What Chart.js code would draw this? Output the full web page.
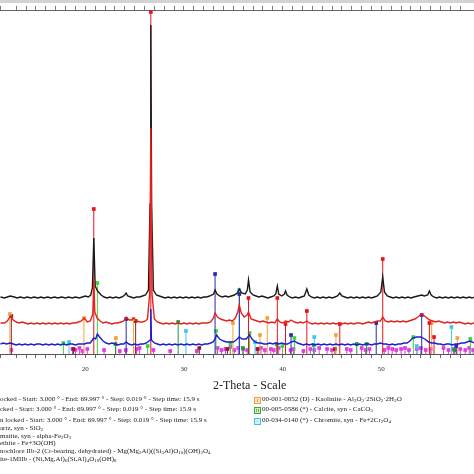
<!DOCTYPE html>
<html>
<head>
<meta charset="utf-8">
<script src="https://cdn.jsdelivr.net/npm/chart.js@4.4.1/dist/chart.umd.min.js"></script>
<style>
  html, body { margin: 0; padding: 0; background: #fff; }
  body { width: 474px; height: 474px; position: relative; overflow: hidden; font-family: "Liberation Serif", "Times New Roman", serif; color: #222; }
  #strip { position: absolute; left: 0; top: 0; width: 474px; height: 3px; background: #d2d2d2; }
  #wrap { position: absolute; left: 0; top: 0; width: 474px; height: 395px; }
  .axis-title { position: absolute; left: 213px; top: 378px; font-size: 12px; line-height: 14px; white-space: nowrap; }
  .leg { position: absolute; font-size: 7px; line-height: 8px; white-space: nowrap; }
  .leg sub { font-size: 5px; line-height: 0; vertical-align: -1px; }
  .ico { display: inline-block; box-sizing: border-box; width: 7px; height: 7px; border: 1px solid; font-size: 5px; line-height: 5px; text-align: center; vertical-align: -1px; margin-right: 1px; }
</style>
</head>
<body>
<div id="strip"></div>
<div id="wrap"><canvas id="xrd" width="474" height="395"></canvas></div>
<div class="axis-title">2-Theta - Scale</div>

<div class="leg" style="left:0;top:395px">ocked - Start: 3.000 ° - End: 69.997 ° - Step: 0.019 ° - Step time: 15.9 s</div>
<div class="leg" style="left:0;top:405px">cked - Start: 3.000 ° - End: 69.997 ° - Step: 0.019 ° - Step time: 15.9 s</div>
<div class="leg" style="left:0;top:416px">n locked - Start: 3.000 ° - End: 69.997 ° - Step: 0.019 ° - Step time: 15.9 s</div>
<div class="leg" style="left:0;top:424px">artz, syn - SiO<sub>2</sub></div>
<div class="leg" style="left:0;top:432px">matite, syn - alpha-Fe<sub>2</sub>O<sub>3</sub></div>
<div class="leg" style="left:0;top:439px">ethite - Fe+3O(OH)</div>
<div class="leg" style="left:0;top:447px">nochlore IIb-2 (Cr-bearing, dehydrated) - Mg(Mg<sub>2</sub>Al)((Si<sub>3</sub>Al)O<sub>10</sub>)(OH)<sub>2</sub>O<sub>4</sub></div>
<div class="leg" style="left:0;top:455px">ite-1MIIb - (Ni,Mg,Al)<sub>6</sub>(Si,Al)<sub>4</sub>O<sub>10</sub>(OH)<sub>8</sub></div>

<div class="leg" style="left:254px;top:395px"><span class="ico" style="border-color:#f0a040;background:#fde6c4;color:#c06010">I</span>00-001-0052 (D) - Kaolinite - Al<sub>2</sub>O<sub>3</sub>·2SiO<sub>2</sub>·2H<sub>2</sub>O</div>
<div class="leg" style="left:254px;top:405px"><span class="ico" style="border-color:#3aa83a;background:#d6f0d0;color:#207020">H</span>00-005-0586 (*) - Calcite, syn - CaCO<sub>3</sub></div>
<div class="leg" style="left:254px;top:416px"><span class="ico" style="border-color:#40c0e0;background:#d2f2fa;color:#2090b0">=</span>00-034-0140 (*) - Chromite, syn - Fe+2Cr<sub>2</sub>O<sub>4</sub></div>

<script>
// scans: [2-theta, counts (offset)]
const blackScan = [
  [11.4,57],[11.8,56],[12.1,57],[12.4,58],[12.8,57],[13.1,56],[13.4,57],[13.8,56],[14.1,57],[14.5,56],
  [14.8,57],[15.2,56],[15.5,57],[15.8,56],[16.2,57],[16.5,56],[16.9,57],[17.2,56],[17.6,57],[18.0,56],
  [18.3,57],[18.7,56],[19.0,57],[19.4,56],[19.7,57],[20.0,58],[20.3,57],[20.55,59],[20.72,66],[20.86,116],
  [21.0,68],[21.25,63],[21.6,59],[21.9,57],[22.2,56],[22.5,57],[22.8,56],[23.1,57],[23.4,56],[23.7,57],
  [24.0,59],[24.14,61],[24.3,58],[24.6,57],[24.9,56],[25.2,57],[25.5,57],[25.8,58],[26.1,59],[26.4,64],
  [26.56,150],[26.64,329],[26.72,150],[26.9,64],[27.2,59],[27.5,58],[27.8,57],[28.1,56],[28.4,57],[28.7,56],
  [29.0,57],[29.3,56],[29.6,57],[29.9,56],[30.2,57],[30.5,56],[30.8,57],[31.1,56],[31.4,57],[31.7,56],
  [32.0,57],[32.3,57],[32.6,58],[33.0,60],[33.15,64],[33.35,60],[33.6,58],[33.9,57],[34.2,58],[34.5,57],
  [34.8,58],[35.1,59],[35.4,61],[35.6,65],[35.85,61],[36.2,60],[36.42,64],[36.54,74],[36.7,62],[37.0,59],
  [37.3,58],[37.6,57],[37.9,58],[38.2,57],[38.5,56],[38.8,57],[39.1,58],[39.3,60],[39.46,68],[39.6,60],
  [39.9,58],[40.18,60],[40.29,63],[40.45,59],[40.7,57],[41.0,56],[41.3,57],[41.6,56],[41.9,57],[42.2,58],
  [42.45,65],[42.65,59],[42.9,57],[43.2,56],[43.5,57],[43.8,56],[44.1,57],[44.4,56],[44.7,57],[45.0,56],
  [45.3,57],[45.55,58],[45.79,61],[46.0,58],[46.3,57],[46.6,56],[46.9,57],[47.2,56],[47.5,57],[47.8,56],
  [48.1,57],[48.4,56],[48.7,57],[49.0,56],[49.3,57],[49.6,58],[49.95,62],[50.14,77],[50.32,62],[50.6,58],
  [50.9,57],[51.2,56],[51.5,57],[51.8,56],[52.1,57],[52.4,56],[52.7,57],[53.0,56],[53.3,57],[53.7,58],
  [54.09,59],[54.35,58],[54.7,59],[54.87,63],[55.05,59],[55.3,57],[55.6,56],[55.9,57],[56.2,56],[56.5,57],
  [56.8,56],[57.1,57],[57.4,56],[57.7,57],[58.0,56],[58.3,57],[58.6,56],[58.9,57],[59.2,56],[59.4,57]
];
const redScan = [
  [11.4,31],[11.8,31],[12.1,33],[12.4,38],[12.7,34],[13.0,32],[13.3,31],[13.6,32],[13.9,31],[14.2,30],
  [14.5,31],[14.8,30],[15.1,31],[15.4,30],[15.7,31],[16.0,30],[16.3,31],[16.6,30],[16.9,31],[17.2,30],
  [17.5,31],[17.8,30],[18.1,31],[18.4,30],[18.7,31],[19.0,31],[19.3,32],[19.6,33],[19.9,36],[20.2,32],
  [20.5,33],[20.76,40],[20.86,74],[20.96,42],[21.2,36],[21.5,33],[21.8,31],[22.1,32],[22.4,31],[22.7,30],
  [23.0,31],[23.3,31],[23.6,32],[23.9,33],[24.14,37],[24.45,34],[24.7,34],[24.9,36],[25.2,33],[25.5,32],
  [25.8,32],[26.1,33],[26.3,35],[26.52,60],[26.64,226],[26.76,60],[27.0,35],[27.3,32],[27.6,31],[27.9,30],
  [28.2,31],[28.5,30],[28.8,31],[29.1,30],[29.4,31],[29.7,30],[30.0,31],[30.3,30],[30.6,31],[30.9,30],
  [31.2,31],[31.5,30],[31.8,31],[32.1,31],[32.4,31],[32.7,32],[33.0,36],[33.15,41],[33.4,37],[33.7,35],
  [34.0,34],[34.3,33],[34.6,34],[34.9,33],[35.2,36],[35.45,42],[35.6,49],[35.8,41],[36.1,37],[36.4,39],
  [36.54,42],[36.8,35],[37.1,34],[37.4,33],[37.7,32],[38.0,33],[38.3,32],[38.6,31],[38.9,32],[39.2,31],
  [39.46,35],[39.7,32],[40.0,31],[40.29,33],[40.6,32],[40.85,34],[41.2,32],[41.5,31],[41.8,32],[42.1,31],
  [42.45,33],[42.7,31],[43.0,30],[43.3,31],[43.6,30],[43.9,31],[44.2,30],[44.5,31],[44.8,30],[45.1,31],
  [45.4,30],[45.7,31],[46.0,30],[46.3,31],[46.6,30],[46.9,31],[47.2,30],[47.5,31],[47.8,31],[48.1,30],
  [48.4,31],[48.7,32],[49.0,31],[49.3,32],[49.6,33],[49.9,33],[50.14,37],[50.4,33],[50.7,32],[51.0,33],
  [51.3,32],[51.6,33],[51.9,32],[52.2,33],[52.5,32],[52.8,33],[53.1,34],[53.4,35],[53.7,37],[54.1,40],
  [54.5,37],[54.9,34],[55.2,33],[55.5,32],[55.8,33],[56.1,32],[56.4,31],[56.7,32],[57.0,31],[57.3,32],
  [57.6,31],[57.9,32],[58.2,31],[58.5,30],[58.8,31],[59.1,30],[59.4,31]
];
const blueScan = [
  [11.4,10],[11.7,11],[12.0,10],[12.4,11],[12.7,10],[13.0,9],[13.3,10],[13.6,9],[13.9,10],[14.2,9],
  [14.5,10],[14.8,9],[15.1,10],[15.4,10],[15.7,9],[16.0,10],[16.3,9],[16.6,10],[16.9,9],[17.2,10],
  [17.5,9],[17.8,10],[18.1,9],[18.4,10],[18.7,10],[19.0,9],[19.3,10],[19.6,10],[19.9,10],[20.2,11],
  [20.5,11],[20.86,16],[21.05,15],[21.22,20],[21.45,17],[21.8,13],[22.1,11],[22.4,10],[22.7,11],[23.0,10],
  [23.3,9],[23.6,10],[23.9,10],[24.14,12],[24.4,10],[24.7,9],[25.0,10],[25.3,9],[25.6,10],[25.9,10],
  [26.2,11],[26.58,14],[26.64,45],[26.70,14],[27.0,11],[27.3,10],[27.6,9],[27.9,10],[28.2,9],[28.5,10],
  [28.8,9],[29.1,10],[29.4,9],[29.7,10],[30.0,9],[30.3,10],[30.6,9],[30.9,10],[31.2,9],[31.5,10],
  [31.8,9],[32.1,10],[32.4,10],[32.7,11],[32.95,12],[33.15,15],[33.3,19],[33.6,15],[34.0,13],[34.3,12],
  [34.6,12],[35.0,12],[35.3,14],[35.6,17],[35.9,15],[36.3,15],[36.65,19],[36.9,15],[37.2,12],[37.5,11],
  [37.8,11],[38.1,10],[38.4,10],[38.7,11],[39.0,10],[39.3,11],[39.6,10],[39.9,11],[40.2,10],[40.5,10],
  [40.85,12],[41.2,13],[41.5,11],[41.8,10],[42.1,9],[42.4,10],[42.7,9],[43.0,10],[43.3,9],[43.6,10],
  [43.9,9],[44.2,10],[44.5,9],[44.8,10],[45.1,9],[45.4,10],[45.7,9],[46.0,10],[46.3,9],[46.6,10],
  [46.9,9],[47.2,10],[47.5,9],[47.8,10],[48.1,9],[48.4,10],[48.7,10],[49.0,9],[49.3,10],[49.6,10],
  [49.9,11],[50.2,10],[50.5,10],[50.8,9],[51.1,10],[51.4,9],[51.7,10],[52.0,10],[52.3,11],[52.6,11],
  [52.9,13],[53.2,16],[53.6,17],[54.0,17],[54.4,15],[54.8,12],[55.1,11],[55.4,11],[55.7,10],[56.0,10],
  [56.3,9],[56.6,10],[56.9,10],[57.2,9],[57.5,10],[57.8,10],[58.1,11],[58.4,11],[58.7,12],[58.95,13],
  [59.2,12],[59.4,11]
];

// phase reference sticks: [2-theta, height]
const quartzSticks = [[20.86,145],[26.64,342],[36.54,56],[39.46,56],[40.29,30],[42.45,43],[45.79,30],[50.14,95],[54.87,31],[55.34,17]];
const hematiteSticks = [[24.14,35],[33.15,80],[35.61,60],[40.85,19],[49.48,31],[54.09,39],[57.59,8]];
const goethiteSticks = [[17.78,11],[21.22,71],[26.32,8],[33.24,23],[34.7,11],[36.65,21],[39.98,8],[41.19,16],[53.24,17],[59.02,15]];
const calciteSticks = [[23.06,10],[29.41,32],[35.97,6],[39.4,10],[43.15,9],[47.51,10],[48.51,10],[57.4,4]];
const kaoliniteSticks = [[12.36,40],[19.86,36],[23.1,16],[24.88,35],[34.96,31],[37.7,19],[38.44,36],[45.4,19],[55.1,31],[57.7,16]];
const chromiteSticks = [[18.35,12],[30.2,23],[35.6,64],[37.2,12],[43.2,17],[53.6,8],[57.1,27]];
const clinochloreSticks = [[12.5,38],[18.8,5],[25.1,33],[31.55,6],[34.4,5],[37.5,5],[45.3,5]];
const nimiteSticks = [
  [12.5,4],[18.7,5],[19.0,4],[19.4,6],[19.7,3],[20.2,5],[21.9,4],[23.5,3],[24.1,4],[25.2,5],[25.5,6],
  [26.9,4],[28.6,3],[31.3,3],[33.4,6],[33.8,4],[34.2,5],[34.7,7],[35.1,4],[35.5,6],[36.0,5],[36.4,4],
  [37.4,5],[37.8,6],[38.2,4],[38.8,5],[39.1,4],[39.6,6],[40.8,4],[41.1,5],[42.1,3],[42.8,5],[43.2,4],
  [43.7,6],[44.5,5],[45.0,4],[46.5,5],[46.9,4],[48.0,6],[48.4,4],[48.8,5],[50.3,4],[50.7,6],[51.1,5],
  [51.5,4],[52.0,5],[52.4,6],[52.8,4],[53.6,5],[54.0,6],[54.5,4],[55.0,5],[56.3,6],[56.8,4],[57.3,5],
  [58.0,5],[58.5,4],[58.9,6],[59.3,4]
];

const thetaMin = 11.355;
const thetaMax = 59.39;

function scanData(scan) {
  return scan.map(([t, c]) => ({ x: t, y: c }));
}

function stickData(list) {
  const pts = [];
  list.forEach(([t, h]) => {
    pts.push({ x: t, y: 0 }, { x: t, y: h, top: true }, { x: t, y: null });
  });
  return pts;
}

function scanSet(data, color, order) {
  return {
    data: scanData(data),
    borderColor: color,
    borderWidth: 1.4,
    pointRadius: 0,
    order: order,
    xAxisID: 'x',
    yAxisID: 'y'
  };
}

function stickSet(list, color, order) {
  return {
    data: stickData(list),
    borderColor: color,
    borderWidth: 1,
    spanGaps: false,
    pointStyle: 'rect',
    pointRadius: ctx => (ctx.raw && ctx.raw.top ? 2.6 : 0),
    pointBackgroundColor: color,
    pointBorderWidth: 0,
    order: order,
    xAxisID: 'x',
    yAxisID: 'y'
  };
}

new Chart(document.getElementById('xrd'), {
  type: 'line',
  data: {
    datasets: [
      scanSet(redScan, '#e8201c', 1),
      scanSet(blackScan, '#1a1a1a', 2),
      scanSet(blueScan, '#1c1cd0', 3),
      stickSet(quartzSticks, '#e8141c', 10),
      stickSet(hematiteSticks, '#2a2aa8', 11),
      stickSet(chromiteSticks, '#3cc8e6', 12),
      stickSet(goethiteSticks, '#3ad43a', 13),
      stickSet(calciteSticks, '#1f9a3a', 14),
      stickSet(kaoliniteSticks, '#f4a23c', 15),
      stickSet(clinochloreSticks, '#8c1c24', 16),
      stickSet(nimiteSticks, '#e03ce0', 17)
    ]
  },
  options: {
    responsive: false,
    animation: false,
    devicePixelRatio: 1,
    events: [],
    layout: { padding: 0, autoPadding: false },
    plugins: { legend: { display: false }, tooltip: { enabled: false } },
    scales: {
      x: {
        type: 'linear',
        position: 'bottom',
        min: thetaMin,
        max: thetaMax,
        afterFit: s => { s.height = 41; s.paddingLeft = 0; s.paddingRight = 0; },
        border: { color: '#555', width: 1 },
        grid: { drawOnChartArea: false, tickLength: 4, tickColor: '#666' },
        ticks: {
          stepSize: 1,
          autoSkip: false,
          maxRotation: 0,
          padding: 7,
          color: '#333',
          font: { family: '"Liberation Serif", serif', size: 7 },
          callback: v => (Math.abs(v % 10) < 1e-6 ? String(Math.round(v)) : '')
        }
      },
      xTop: {
        type: 'linear',
        position: 'top',
        axis: 'x',
        min: thetaMin,
        max: thetaMax,
        afterFit: s => { s.height = 10; s.paddingLeft = 0; s.paddingRight = 0; },
        border: { color: '#666', width: 1 },
        grid: { drawOnChartArea: false, tickLength: 4, tickColor: '#777' },
        ticks: { stepSize: 1, autoSkip: false, display: false }
      },
      y: {
        display: false,
        min: 0,
        max: 344
      }
    }
  }
});
</script>
</body>
</html>
